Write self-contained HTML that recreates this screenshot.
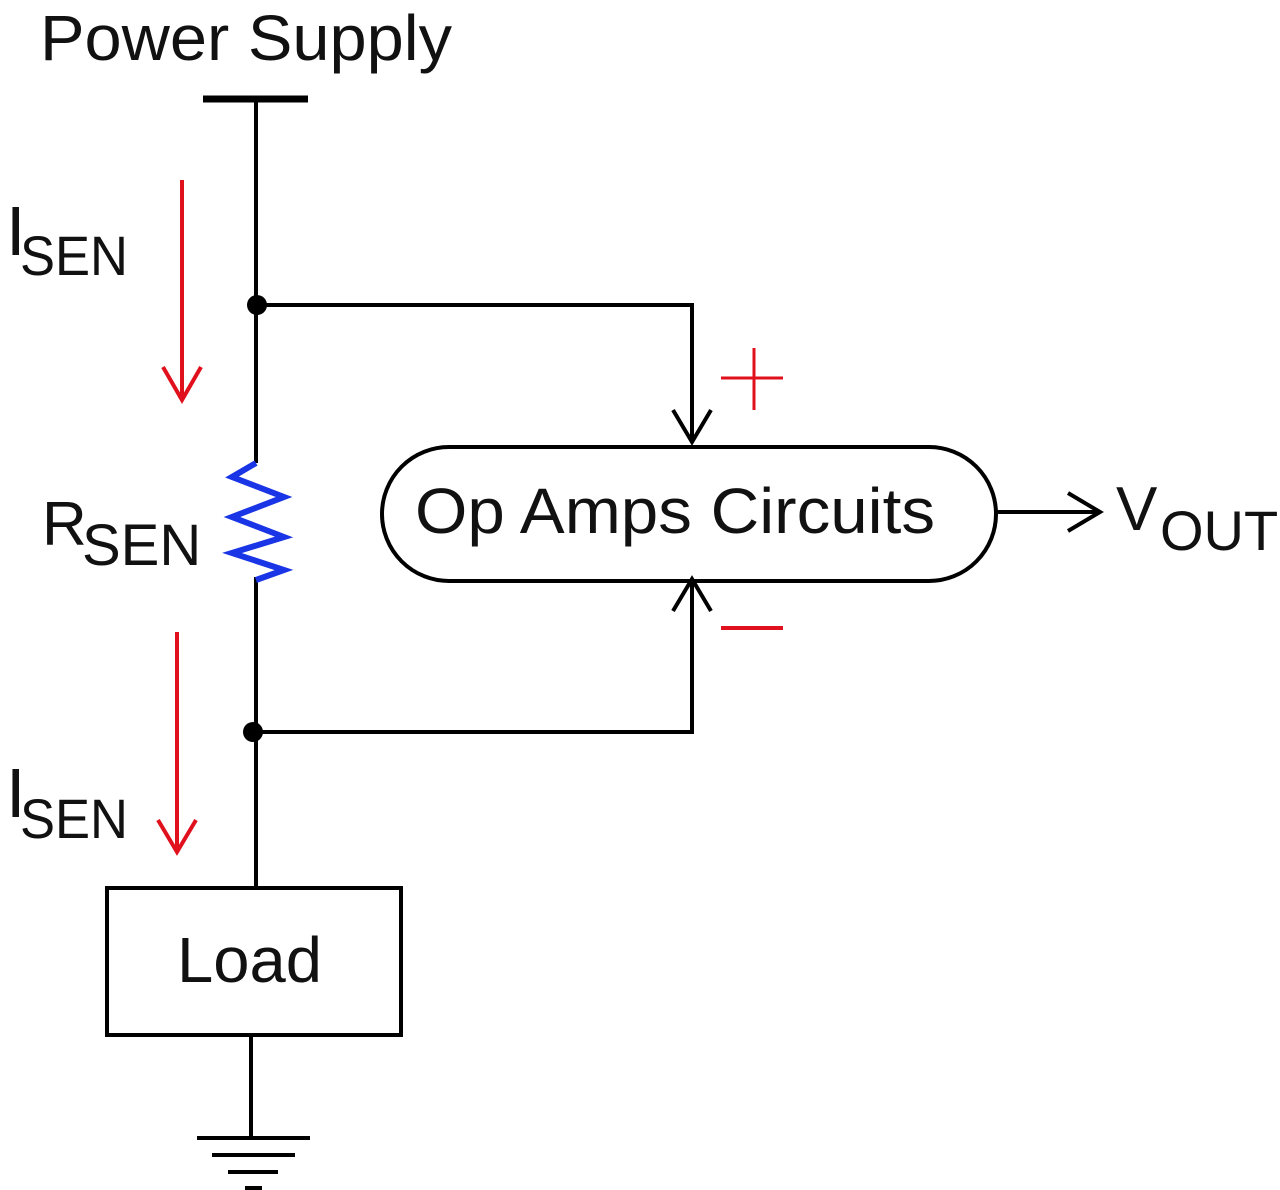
<!DOCTYPE html>
<html><head><style>html,body{margin:0;padding:0;background:#fff;}svg{display:block;}</style></head>
<body>
<svg width="1280" height="1190" viewBox="0 0 1280 1190" xmlns="http://www.w3.org/2000/svg" font-family="Liberation Sans, Arial, sans-serif">
<g stroke="#000" stroke-width="4" fill="none">
<line x1="203" y1="99" x2="308" y2="99" stroke-width="7"/>
<line x1="256" y1="99" x2="256" y2="463"/>
<line x1="256" y1="577" x2="256" y2="888"/>
<polyline points="256,305 692,305 692,442"/>
<polyline points="673,410 692,442 711,410"/>
<polyline points="256,732 692,732 692,579"/>
<polyline points="673,611 692,579 711,611"/>
<rect x="382" y="447" width="614" height="134" rx="67"/>
<line x1="996" y1="512" x2="1100" y2="512"/>
<polyline points="1068,493 1100,512 1068,531"/>
<rect x="107" y="888" width="294" height="147"/>
<line x1="251" y1="1035" x2="251" y2="1138"/>
<line x1="197" y1="1138" x2="310" y2="1138"/>
<line x1="212" y1="1155" x2="295" y2="1155"/>
<line x1="228" y1="1172" x2="278" y2="1172"/>
<line x1="245" y1="1188" x2="262" y2="1188"/>
</g>
<circle cx="257" cy="305" r="10"/>
<circle cx="253" cy="732" r="10"/>
<polyline points="256,463 232,477 284,497 232,517 284,537 232,553 284,570 256,580" fill="none" stroke="#1a35e6" stroke-width="6" stroke-linejoin="miter"/>
<g stroke="#e0101c" stroke-width="4" fill="none">
<line x1="182" y1="180" x2="182" y2="400"/>
<polyline points="163,367 182,400 201,367"/>
<line x1="177" y1="632" x2="177" y2="852"/>
<polyline points="158,820 177,852 196,820"/>
<line x1="721" y1="378" x2="783" y2="378" stroke-width="3"/>
<line x1="754" y1="348" x2="754" y2="410" stroke-width="3"/>
<line x1="721" y1="628" x2="783" y2="628" stroke-width="4"/>
</g>
<g fill="#111">
<text x="40" y="60" font-size="64" textLength="412" lengthAdjust="spacingAndGlyphs">Power Supply</text>
<text x="6" y="255" font-size="70">I</text><text x="20" y="275" font-size="56" textLength="108" lengthAdjust="spacingAndGlyphs">SEN</text>
<text x="6" y="817" font-size="70">I</text><text x="20" y="838" font-size="56" textLength="108" lengthAdjust="spacingAndGlyphs">SEN</text>
<text x="42" y="545" font-size="62">R</text><text x="82" y="565" font-size="58">SEN</text>
<text x="415" y="533" font-size="64" textLength="520" lengthAdjust="spacingAndGlyphs">Op Amps Circuits</text>
<text x="1116" y="530" font-size="62">V</text><text x="1160" y="550" font-size="56">OUT</text>
<text x="177" y="982" font-size="64" textLength="145" lengthAdjust="spacingAndGlyphs">Load</text>
</g>
</svg>
</body></html>
